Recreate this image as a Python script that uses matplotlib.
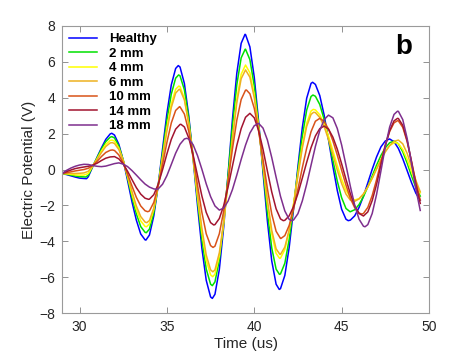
import numpy as np
import matplotlib
matplotlib.use("Agg")
import matplotlib.pyplot as plt

plt.rcParams['font.family'] = ['Liberation Sans', 'DejaVu Sans']

# sample times (us), 0.25 us apart from 29.0 to 49.5
time_us = np.linspace(29.0, 49.5, 83)

healthy = [-0.22, -0.28, -0.35, -0.42, -0.48, -0.50, -0.40, 0.15, 0.68, 1.20, 1.68, 1.98,
           1.92, 1.40, 0.51, -0.62, -1.80, -2.82, -3.59, -3.92,
           -3.65, -2.58, -0.89, 1.14, 3.13, 4.71, 5.63,
           5.71, 4.79, 2.99, 0.60, -1.99, -4.38, -6.17, -7.10,
           -6.95, -5.57, -3.21, -0.27, 2.79, 5.36, 7.03,
           7.52, 6.83, 5.14, 2.66, -0.16, -2.86, -5.09, -6.39,
           -6.64, -5.90, -4.33, -2.19, 0.17, 2.33, 3.97, 4.80,
           4.74, 4.12, 3.03, 1.66, 0.18, -1.16, -2.21, -2.77,
           -2.82, -2.58, -2.11, -1.48, -0.74, 0.01, 0.70, 1.26, 1.59,
           1.70, 1.55, 1.17, 0.60, -0.06, -0.73, -1.32, -1.71]

mm2 = [-0.22, -0.26, -0.31, -0.36, -0.40, -0.41, -0.32, 0.17, 0.65, 1.13, 1.55, 1.80,
       1.76, 1.30, 0.52, -0.48, -1.54, -2.47, -3.18, -3.50,
       -3.32, -2.40, -0.90, 0.92, 2.74, 4.20, 5.09,
       5.22, 4.44, 2.84, 0.68, -1.70, -3.88, -5.54, -6.39,
       -6.26, -5.05, -2.95, -0.32, 2.39, 4.72, 6.22,
       6.70, 6.12, 4.66, 2.51, 0.04, -2.38, -4.37, -5.55,
       -5.82, -5.22, -3.89, -2.06, -0.03, 1.85, 3.31, 4.07,
       4.08, 3.62, 2.79, 1.71, 0.51, -0.64, -1.57, -2.17,
       -2.35, -2.24, -1.95, -1.51, -0.96, -0.36, 0.24, 0.78, 1.21,
       1.49, 1.58, 1.43, 0.99, 0.36, -0.35, -1.00, -1.48]

mm4 = [-0.22, -0.24, -0.27, -0.30, -0.31, -0.31, -0.22, 0.18, 0.60, 1.03, 1.40, 1.62,
       1.58, 1.19, 0.49, -0.41, -1.37, -2.22, -2.86, -3.17,
       -3.03, -2.22, -0.91, 0.70, 2.34, 3.65, 4.47,
       4.62, 3.95, 2.53, 0.60, -1.53, -3.51, -5.05, -5.87,
       -5.83, -4.82, -3.00, -0.67, 1.76, 3.92, 5.31,
       5.82, 5.39, 4.17, 2.35, 0.21, -1.89, -3.59, -4.67,
       -4.94, -4.46, -3.39, -1.90, -0.23, 1.37, 2.58, 3.26,
       3.32, 3.05, 2.54, 1.86, 1.05, 0.23, -0.54, -1.15,
       -1.55, -1.70, -1.62, -1.37, -0.97, -0.48, 0.05, 0.56, 1.01,
       1.33, 1.49, 1.44, 1.11, 0.56, -0.12, -0.80, -1.30]

mm6 = [-0.22, -0.22, -0.22, -0.22, -0.21, -0.19, -0.10, 0.20, 0.56, 0.94, 1.28, 1.48,
       1.45, 1.11, 0.48, -0.34, -1.22, -2.03, -2.62, -2.93,
       -2.84, -2.14, -0.92, 0.59, 2.15, 3.45, 4.26,
       4.45, 3.88, 2.56, 0.73, -1.32, -3.27, -4.76, -5.59,
       -5.59, -4.64, -2.90, -0.69, 1.65, 3.72, 5.06,
       5.55, 5.14, 4.00, 2.32, 0.28, -1.70, -3.38, -4.42,
       -4.73, -4.32, -3.36, -1.95, -0.35, 1.19, 2.40, 3.07,
       3.17, 2.90, 2.39, 1.67, 0.82, -0.03, -0.78, -1.37,
       -1.71, -1.77, -1.64, -1.36, -0.96, -0.50, 0.03, 0.54, 0.98,
       1.34, 1.57, 1.64, 1.43, 0.90, 0.16, -0.61, -1.24]

mm10 = [-0.22, -0.18, -0.13, -0.08, -0.04, 0.00, 0.07, 0.22, 0.45, 0.72, 0.95, 1.07,
        1.06, 0.81, 0.35, -0.26, -0.92, -1.55, -2.03, -2.30,
        -2.31, -1.83, -0.91, 0.27, 1.51, 2.59, 3.29,
        3.49, 3.09, 2.13, 0.72, -0.86, -2.38, -3.58, -4.24,
        -4.27, -3.58, -2.31, -0.64, 1.14, 2.74, 3.90,
        4.42, 4.22, 3.41, 2.13, 0.56, -1.06, -2.48, -3.44,
        -3.84, -3.68, -3.11, -2.20, -1.09, 0.10, 1.19, 2.11,
        2.69, 2.85, 2.68, 2.25, 1.60, 0.81, -0.04, -0.87,
        -1.61, -2.13, -2.43, -2.45, -2.11, -1.45, -0.57, 0.42, 1.37,
        2.12, 2.60, 2.71, 2.35, 1.56, 0.46, -0.70, -1.70]

mm14 = [-0.22, -0.12, -0.03, 0.05, 0.10, 0.14, 0.18, 0.24, 0.35, 0.50, 0.63, 0.70,
        0.72, 0.59, 0.31, -0.10, -0.56, -1.01, -1.37, -1.60,
        -1.65, -1.40, -0.82, -0.01, 0.87, 1.68, 2.25,
        2.51, 2.37, 1.76, 0.81, -0.33, -1.47, -2.39, -2.96,
        -3.07, -2.73, -2.01, -0.98, 0.19, 1.34, 2.28,
        2.91, 3.13, 2.88, 2.17, 1.13, -0.08, -1.25, -2.19,
        -2.75, -2.83, -2.58, -2.06, -1.34, -0.48, 0.40, 1.22,
        1.87, 2.28, 2.42, 2.25, 1.80, 1.14, 0.32, -0.55,
        -1.35, -2.03, -2.45, -2.59, -2.36, -1.73, -0.83, 0.26, 1.32,
        2.17, 2.71, 2.84, 2.46, 1.61, 0.43, -0.82, -1.89]

mm18 = [-0.22, -0.05, 0.08, 0.18, 0.25, 0.29, 0.28, 0.22, 0.18, 0.16, 0.19, 0.26,
        0.33, 0.37, 0.30, 0.16, -0.06, -0.31, -0.57, -0.81,
        -0.98, -1.08, -1.08, -0.82, -0.34, 0.28, 0.91,
        1.41, 1.70, 1.70, 1.38, 0.78, 0.02, -0.80, -1.51,
        -2.03, -2.26, -2.15, -1.76, -1.12, -0.31, 0.56,
        1.36, 2.03, 2.44, 2.57, 2.31, 1.65, 0.67, -0.43,
        -1.49, -2.31, -2.78, -2.81, -2.46, -1.75, -0.82, 0.24,
        1.29, 2.17, 2.78, 3.03, 2.88, 2.29, 1.37, 0.24,
        -0.94, -1.99, -2.77, -3.16, -3.07, -2.45, -1.39, -0.08, 1.26,
        2.37, 3.07, 3.24, 2.78, 1.74, 0.36, -1.08, -2.28]

# peaks and troughs (time us, value V), between grid samples
healthy_ext_t = [30.4, 31.84, 33.8, 35.65, 37.6, 39.47, 41.43, 43.34, 45.38, 47.73]
healthy_ext_v = [-0.51, 2.02, -3.93, 5.79, -7.18, 7.53, -6.68, 4.86, -2.85, 1.70]
mm2_ext_t = [30.35, 31.85, 33.82, 35.67, 37.6, 39.48, 41.44, 43.36, 45.48]
mm2_ext_v = [-0.42, 1.83, -3.52, 5.27, -6.47, 6.70, -5.84, 4.15, -2.35]
mm4_ext_t = [31.86, 33.83, 35.68, 37.62, 41.45, 43.38, 48.1]
mm4_ext_v = [1.64, -3.19, 4.65, -5.97, -4.95, 3.35, 1.50]
mm6_ext_t = [31.87, 33.85, 35.7, 37.63, 41.47, 43.4, 45.67]
mm6_ext_v = [1.50, -2.96, 4.47, -5.70, -4.73, 3.19, -1.78]
mm10_ext_t = [31.88, 33.9, 35.72, 37.64, 39.55, 41.53, 46.15, 48.2]
mm10_ext_v = [1.09, -2.35, 3.50, -4.34, 4.43, -3.84, -2.48, 2.72]
mm14_ext_t = [33.95, 35.8, 37.68, 41.66, 48.2]
mm14_ext_v = [-1.66, 2.52, -3.09, -2.85, 2.85]
mm18_ext_t = [34.4, 36.13, 42.14, 46.34, 48.2]
mm18_ext_v = [-1.10, 1.74, -2.85, -3.19, 3.25]

labels = ['Healthy', '2 mm', '4 mm', '6 mm', '10 mm', '14 mm', '18 mm']
series = [healthy, mm2, mm4, mm6, mm10, mm14, mm18]
extremes = [(healthy_ext_t, healthy_ext_v), (mm2_ext_t, mm2_ext_v), (mm4_ext_t, mm4_ext_v),
            (mm6_ext_t, mm6_ext_v), (mm10_ext_t, mm10_ext_v), (mm14_ext_t, mm14_ext_v),
            (mm18_ext_t, mm18_ext_v)]
colors = ['#0000FF', '#00E000', '#FFFF00', '#EDB120', '#D95319', '#A2142F', '#7E2F8E']

fig = plt.figure(figsize=(4.74, 3.55), dpi=100)
ax = fig.add_axes([0.131, 0.118, 0.774, 0.809])

for y, (et, ev), c, lab in zip(series, extremes, colors, labels):
    t = np.concatenate([time_us, et])
    v = np.concatenate([y, ev])
    order = np.argsort(t)
    ax.plot(t[order], v[order], color=c, lw=1.1, label=lab,
            solid_joinstyle='round')

ax.set_xlim(29, 50)
ax.set_ylim(-8, 8)
ax.set_xticks([30, 35, 40, 45, 50])
ax.set_yticks(np.arange(-8, 9, 2))
ax.tick_params(direction='in', length=4, width=0.6, top=True, right=True,
               labelsize=10, color='#808080', labelcolor='#262626', pad=5)
for s in ax.spines.values():
    s.set_color('#9a9a9a')
    s.set_linewidth(0.8)

ax.set_xlabel('Time (us)', fontsize=11, color='#262626', labelpad=2)
ax.set_ylabel('Electric Potential (V)', fontsize=11, color='#262626', labelpad=2)

leg = ax.legend(loc='upper left', frameon=False, prop={'weight': 'bold', 'size': 9.5},
                handlelength=2.1, handletextpad=0.9, labelspacing=0.17,
                borderaxespad=0.15, bbox_to_anchor=(0.0, 1.0))

ax.text(0.93, 0.925, 'b', transform=ax.transAxes, fontsize=20, fontweight='bold',
        ha='center', va='center')

fig.savefig('out.png', dpi=100)
